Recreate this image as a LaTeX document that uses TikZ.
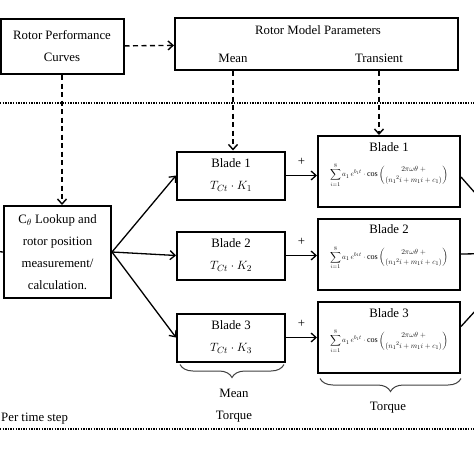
\documentclass[tikz,border=0pt]{standalone}
\usepackage{amsmath}
\usepackage{graphicx}
\usepackage{fontspec}
\setmainfont{Liberation Serif}
\usetikzlibrary{arrows.meta}
\usetikzlibrary{positioning}
\usetikzlibrary{decorations.pathreplacing}

\newcommand{\transTorque}{\resizebox{118pt}{!}{$\displaystyle\sum_{i=1}^{8} a_1\, e^{b_1 t}\cdot\cos\left(\genfrac{}{}{0pt}{}{2\pi\omega\theta\;+}{(n_1{}^2 i+m_1 i+c_1)}\right)$}}

\begin{document}
\begin{tikzpicture}[
    x=1pt, y=-1pt,
    node distance=30pt and 31pt,
    >={Straight Barb[length=5pt,width=9pt]},
    every node/.style={font=\fontsize{12.8pt}{22pt}\selectfont},
    box/.style={rectangle, draw, line width=2pt, align=center, inner sep=2pt},
    meanbox/.style={box, minimum width=108pt, minimum height=48pt},
    transbox/.style={box, minimum width=142pt, minimum height=71pt},
    flow/.style={->, line width=1.3pt},
    feed/.style={->, line width=1.4pt, dash pattern=on 5pt off 3.5pt},
    divider/.style={line width=1.4pt, dash pattern=on 1.3pt off 1.3pt},
    underbrace/.style={decorate, decoration={brace, mirror, amplitude=13pt}, line width=1pt, draw=black!75}
]

\useasboundingbox (0,0) rectangle (474,474);
\clip (0,0) rectangle (474,474);

% Nodes
\node[box, minimum width=123pt, minimum height=55pt] (perf) at (62,46.5) {Rotor Performance\\Curves};
\node[box, minimum width=283pt, minimum height=52pt] (params) at (316.5,44) {};
\node (ptitle) at (318,30) {Rotor Model Parameters};
\node (pmean) at (233,58) {Mean};
\node (ptrans) at (379,58) {Transient};
\node[box, minimum width=107pt, minimum height=92pt, yshift=-2pt] (lookup) at (57.5,250) {C$_\theta$ Lookup and\\rotor position\\measurement/\\calculation.};
\node[meanbox] (mean1) at (231,175.5) {Blade 1\\$T_{Ct}\cdot K_1$};
\node[meanbox, below=of mean1] (mean2) {Blade 2\\$T_{Ct}\cdot K_2$};
\node[meanbox, below=32pt of mean2] (mean3) {Blade 3\\$T_{Ct}\cdot K_3$};
\node[transbox, right=31pt of mean1, yshift=4pt] (trans1) {};
\node[transbox, right=31pt of mean2, yshift=1.5pt] (trans2) {};
\node[transbox, right=31pt of mean3] (trans3) {};
\node (tname1) at ([yshift=-12pt]trans1.north) {Blade 1};
\node (tform1) at ([yshift=-40pt]trans1.north) {\transTorque};
\node (tname2) at ([yshift=-12pt]trans2.north) {Blade 2};
\node (tform2) at ([yshift=-40pt]trans2.north) {\transTorque};
\node (tname3) at ([yshift=-12pt]trans3.north) {Blade 3};
\node (tform3) at ([yshift=-40pt]trans3.north) {\transTorque};
\node[align=center] (meanlbl) at (234,405.5) {Mean\\Torque};
\node (torquelbl) at (388,408) {Torque};
\node[anchor=west, inner sep=1pt] (steplbl) at (0,419) {Per time step};
\coordinate (feedin) at (-20,250);
\coordinate (join) at (528,253);

% Separators
\draw[divider] (0,103) -- (474,103);
\draw[divider] (0,429) -- (474,429);

% Edges
\draw[feed] (perf) -- (params);
\draw[feed] (perf.south) -- (perf.south |- lookup.north);
\draw[feed] (pmean |- params.south) -- (pmean |- mean1.north);
\draw[feed] (ptrans |- params.south) -- (ptrans |- trans1.north);
\draw[line width=1.3pt] (feedin) -- (lookup.west);
\draw[flow] (lookup.east) -- (mean1.west);
\draw[flow] (lookup.east) -- (mean2.west);
\draw[flow] (lookup.east) -- (mean3.west);
\draw[flow] (mean1.east) -- node[above=6pt]{+} (mean1.east -| trans1.west);
\draw[flow] (mean2.east) -- node[above=6pt]{+} (mean2.east -| trans2.west);
\draw[flow] (mean3.east) -- node[above=6pt]{+} (mean3.east -| trans3.west);
\draw[line width=1.3pt] ([yshift=-5.5pt]trans1.east) -- (join);
\draw[line width=1.3pt] (trans2.east) -- (join);
\draw[line width=1.3pt] ([yshift=11pt]trans3.east) -- (join);

% Braces
\draw[underbrace] ([xshift=4pt,yshift=-2pt]mean3.south west) -- ([xshift=-2pt,yshift=-2pt]mean3.south east);
\draw[underbrace] ([xshift=3pt,yshift=-4.5pt]trans3.south west) -- ([yshift=-4.5pt]trans3.south east);

\end{tikzpicture}
\end{document}
